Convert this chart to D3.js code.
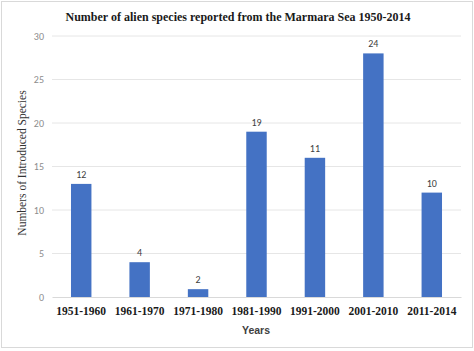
<!DOCTYPE html>
<html>
<head>
<meta charset="utf-8">
<script src="https://cdn.jsdelivr.net/npm/d3@7"></script>
<style>
  body { margin: 0; background: #fff; }
  svg { display: block; }
</style>
</head>
<body>
<div id="chart"></div>
<script>
// decades on the x axis
const categories = ["1951-1960", "1961-1970", "1971-1980", "1981-1990", "1991-2000", "2001-2010", "2011-2014"];
// bar heights as drawn in the picture
const barValues = [13, 4, 0.9, 19, 16, 28, 12];
// the numbers printed above the bars
const barLabels = ["12", "4", "2", "19", "11", "24", "10"];
const yTicks = [0, 5, 10, 15, 20, 25, 30];

const width = 474, height = 351;
const margin = {top: 36, right: 13, bottom: 54, left: 52};

const svg = d3.select("#chart").append("svg")
    .attr("width", width)
    .attr("height", height);

// outer frame
svg.append("rect")
    .attr("x", 1.5).attr("y", 1.5)
    .attr("width", width - 3).attr("height", height - 5)
    .attr("fill", "none")
    .attr("stroke", "#d9d9d9");

const x = d3.scaleBand()
    .domain(categories)
    .range([margin.left, width - margin.right])
    .paddingInner(0.65)
    .paddingOuter(0.325);

const y = d3.scaleLinear()
    .domain([0, 30])
    .range([height - margin.bottom, margin.top]);

// gridlines
svg.append("g")
    .selectAll("line")
    .data(yTicks.slice(1))
    .join("line")
    .attr("x1", margin.left)
    .attr("x2", width - margin.right)
    .attr("y1", d => y(d))
    .attr("y2", d => y(d))
    .attr("stroke", "#e6e6e6")
    .attr("stroke-width", 1);

// y axis labels
const yAxis = svg.append("g")
    .attr("transform", `translate(${margin.left - 8}, 0)`)
    .call(d3.axisLeft(y).tickValues(yTicks).tickSize(0).tickPadding(0));
yAxis.select(".domain").remove();
yAxis.selectAll("text")
    .attr("fill", "#8c8c8c")
    .style("font-family", "Carlito, 'Liberation Sans', sans-serif")
    .style("font-size", "10px");

// x axis labels
const xAxis = svg.append("g")
    .attr("transform", `translate(0, ${y(0)})`)
    .call(d3.axisBottom(x).tickSize(0).tickPadding(10));
xAxis.select(".domain")
    .attr("stroke", "#d9d9d9");
xAxis.selectAll("text")
    .attr("fill", "#1a1a1a")
    .style("font-family", "'Liberation Serif', 'Times New Roman', serif")
    .style("font-weight", "bold")
    .style("font-size", "11.5px");

// bars
svg.append("g")
    .selectAll("rect")
    .data(barValues)
    .join("rect")
    .attr("x", (d, i) => x(categories[i]))
    .attr("y", d => y(d))
    .attr("width", x.bandwidth())
    .attr("height", d => y(0) - y(d))
    .attr("fill", "#4472c4");

// labels on top of the bars
svg.append("g")
    .selectAll("text")
    .data(barValues)
    .join("text")
    .attr("x", (d, i) => x(categories[i]) + x.bandwidth() / 2)
    .attr("y", d => y(d) - 6)
    .attr("text-anchor", "middle")
    .attr("fill", "#404040")
    .style("font-family", "Carlito, 'Liberation Sans', sans-serif")
    .style("font-size", "10px")
    .text((d, i) => barLabels[i]);

// title
svg.append("text")
    .attr("x", 238)
    .attr("y", 21)
    .attr("text-anchor", "middle")
    .attr("fill", "#1a1a1a")
    .style("font-family", "'Liberation Serif', 'Times New Roman', serif")
    .style("font-weight", "bold")
    .style("font-size", "12px")
    .text("Number of alien species reported from the Marmara Sea 1950-2014");

// axis titles
svg.append("text")
    .attr("x", 256)
    .attr("y", 334)
    .attr("text-anchor", "middle")
    .attr("fill", "#404040")
    .style("font-family", "'Liberation Sans', sans-serif")
    .style("font-weight", "bold")
    .style("font-size", "10.5px")
    .text("Years");

svg.append("text")
    .attr("transform", "translate(26, 163) rotate(-90)")
    .attr("text-anchor", "middle")
    .attr("fill", "#333")
    .style("font-family", "'Liberation Serif', 'Times New Roman', serif")
    .style("font-size", "11.5px")
    .text("Numbers of Introduced Species");
</script>
</body>
</html>
